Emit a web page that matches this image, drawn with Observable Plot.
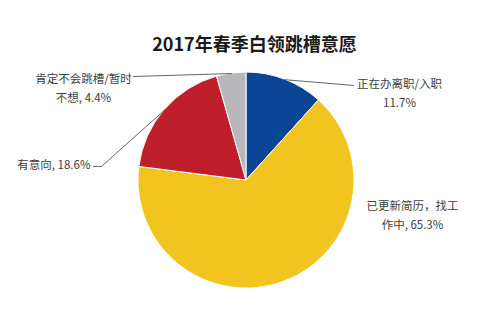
<!DOCTYPE html>
<html><head><meta charset="utf-8">
<script src="https://cdn.jsdelivr.net/npm/d3@7"></script>
<script src="https://cdn.jsdelivr.net/npm/@observablehq/plot@0.6"></script>
<style>
body{margin:0;background:#fff;}
#title{width:489px;height:54px;box-sizing:border-box;padding:30px 0 0 20px;line-height:24px;text-align:center;font:bold 18px 'Noto Sans CJK SC',sans-serif;color:#1a1a1a;}
#chart svg{display:block;overflow:visible;}
</style></head><body>
<div id="title"></div><div id="chart"></div>
<script>
// ---- data ----
const title = "2017年春季白领跳槽意愿";
const categories = ["正在办离职/入职", "已更新简历，找工作中", "有意向", "肯定不会跳槽/暂时不想"];
const values = [11.7, 65.3, 18.6, 4.4];
const colors = ["#0b4596", "#f2c41f", "#bf1f2b", "#b8b8ba"];
const labelWrap = [8, 8, 0, 9]; // characters on the first label line (0 = single line)

// ---- layout (in pie-radius units, centre = 0,0) ----
const labelPos = [
  {x: 1.417, y: 0.824, anchor: "middle"},
  {x: 1.537, y: -0.306, anchor: "middle"},
  {x: -1.444, y: 0.167, anchor: "end"},
  {x: -1.509, y: 0.875, anchor: "middle"}
];
const leaderBends = [[[0.991, 0.880]], null, [[-1.343, 0.130], [-1.417, 0.130]], [[-1.046, 0.963]]];

document.getElementById("title").textContent = title;

const W = 489, H = 257, R = 108, CX = 246, CY = 126;
const pie = d3.pie().sort(null).value(d => d.value)(categories.map((c, i) => ({category: c, value: values[i], i})));

function labelOf(i) {
  const full = categories[i] + ", " + values[i] + "%";
  const w = labelWrap[i];
  if (!w) return full;
  return full.slice(0, w) + "\n" + full.slice(w).replace(/^,\s*/, "");
}
const labelData = pie.map(p => ({i: p.data.i, text: labelOf(p.data.i), ...labelPos[p.data.i]}));
const leaderData = [];
pie.forEach(p => {
  const i = p.data.i;
  if (!leaderBends[i]) return;
  const a = (p.startAngle + p.endAngle) / 2;
  leaderData.push({i, x: Math.sin(a), y: Math.cos(a)});
  leaderBends[i].forEach(([x, y]) => leaderData.push({i, x, y}));
});

function slices(index, scales) {
  const cx = scales.x(0), cy = scales.y(0), r = scales.x(1) - scales.x(0);
  const arc = d3.arc().innerRadius(0).outerRadius(r);
  const g = d3.create("svg:g").attr("transform", `translate(${cx},${cy})`);
  g.selectAll("path").data(pie).join("path")
    .attr("d", arc)
    .attr("fill", d => colors[d.data.i])
    .attr("stroke", "#fff")
    .attr("stroke-width", 1)
    .attr("stroke-linejoin", "round");
  return g.node();
}

const textStyle = {fill: "#404040", fontSize: 11.5, lineHeight: 1.65};
const chart = Plot.plot({
  width: W, height: H,
  margin: 0,
  style: {fontFamily: "'Noto Sans CJK SC', sans-serif", background: "#fff", overflow: "visible"},
  x: {domain: [-CX / R, (W - CX) / R], axis: null},
  y: {domain: [-(H - CY) / R, CY / R], axis: null},
  marks: [
    slices,
    Plot.line(leaderData, {x: "x", y: "y", z: "i", stroke: "#555", strokeWidth: 0.9}),
    Plot.text(labelData.filter(d => d.anchor === "middle"), {x: "x", y: "y", text: "text", textAnchor: "middle", ...textStyle}),
    Plot.text(labelData.filter(d => d.anchor === "end"), {x: "x", y: "y", text: "text", textAnchor: "end", ...textStyle})
  ]
});
document.getElementById("chart").appendChild(chart);
</script>
</body></html>
